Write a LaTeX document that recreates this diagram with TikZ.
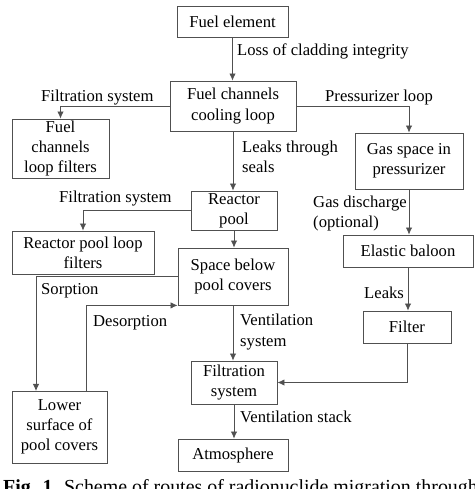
\documentclass[tikz,border=0pt]{standalone}
\usepackage{fontspec}
\setmainfont{Liberation Serif}
\usepackage{tikz}
\usetikzlibrary{positioning}
\usetikzlibrary{arrows.meta}
\definecolor{line-gray}{RGB}{80,80,80}

\begin{document}
\begin{tikzpicture}[x=0.03cm, y=-0.03cm, >={Latex[length=6pt,width=5.5pt]},
  font=\fontsize{14.2}{17.3}\selectfont,
  block/.style 2 args={draw=line-gray, line width=0.7pt, align=center, inner sep=0pt,
    minimum width=#1*0.03cm, minimum height=#2*0.03cm},
  route/.style={->, draw=line-gray, line width=0.7pt},
  lbl/.style={anchor=west, align=left, inner sep=0pt}]

\useasboundingbox (0,0) rectangle (474,489);

% main column
\node [block={111}{31}] (fe) at (232.5,21.5) {Fuel element};
\node [block={126}{50}] (fcl) at (233,106) {Fuel channels\\cooling loop};
\node [block={86}{39}] (rp) at (234,210.5) {Reactor\\pool};
\node [block={110}{57}] (sbc) at (233,276.5) {Space below\\pool covers};
\node [block={86}{43}] (fs) at (234,382.5) {Filtration\\system};
\node [block={110}{32}] (atm) at (233,455) {Atmosphere};

% left side
\node [block={97}{59}] (fclf) at (60.5,148.5) {Fuel\\channels\\loop filters};
\node [block={142}{43}] (rpf) at (83,252.5) {Reactor pool loop\\filters};
\node [block={95}{72}] (lsc) at (59.5,427) {Lower\\surface of\\pool covers};
\coordinate (sorp) at (36,391);
\coordinate (desorp) at (86,391);

% pressurizer side
\node [block={108}{56}] (gas) at (409,161) {Gas space in\\pressurizer};
\node [block={130}{32}] (eb) at (408,251) {Elastic baloon};
\node [block={88}{32}] (flt) at (407,327) {Filter};

% routes
\draw [route] (fe.south) -- (fe.south |- fcl.north);
\draw [route] (fcl.west) -| (fclf.north);
\draw [route] (fcl.east) -| (gas.north);
\draw [route] (fcl.south) -- (fcl.south |- rp.north);
\draw [route] (rp.west) -| (rpf.north);
\draw [route] (rp.south) -- (rp.south |- sbc.north);
\draw [route] (sbc.west) -| (sorp);
\draw [route] (desorp) |- (sbc.south west);
\draw [route] (sbc.south) -- (sbc.south |- fs.north);
\draw [route] (fs.south) -- (fs.south |- atm.north);
\draw [route] (gas.south) -- (gas.south |- eb.north);
\draw [route] (eb.south) -- (eb.south |- flt.north);
\draw [route] (flt.south) |- (fs.east);

% route labels
\node [lbl] (l-clad) at (237,51) {Loss of cladding integrity};
\node [lbl] (l-filt1) at (41,97.5) {Filtration system};
\node [lbl] (l-press) at (325,97.5) {Pressurizer loop};
\node [lbl] (l-seals) at (242,157) {Leaks through\\seals};
\node [lbl] (l-filt2) at (59,199) {Filtration system};
\node [lbl] (l-disch) at (313,213.5) {Gas discharge\\(optional)};
\node [lbl] (l-sorp) at (41,291) {Sorption};
\node [lbl] (l-desorp) at (93,322.5) {Desorption};
\node [lbl] (l-leaks) at (364,293) {Leaks};
\node [lbl] (l-vent) at (240,332) {Ventilation\\system};
\node [lbl] (l-stack) at (240,417) {Ventilation stack};

% caption, cut by the page edge
\node [anchor=base west, inner sep=0pt, font=\fontsize{17}{20}\selectfont] (caption) at (3,493)
  {\textbf{Fig. 1.} Scheme of routes of radionuclide migration through the pool};

\end{tikzpicture}
\end{document}
